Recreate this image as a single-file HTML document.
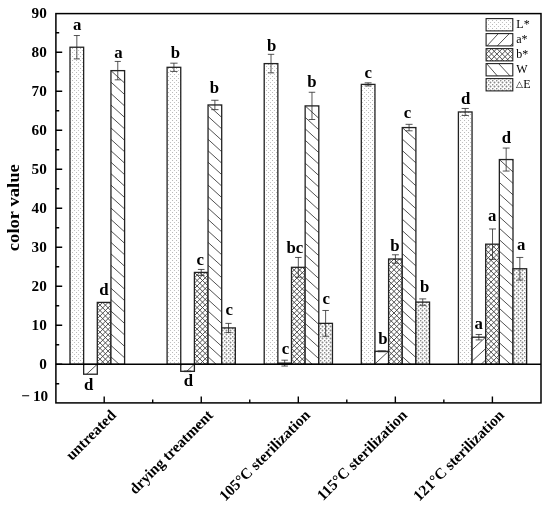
<!DOCTYPE html>
<html lang="en"><head><meta charset="utf-8"><title>color value chart</title>
<style>
html,body{margin:0;padding:0;background:#fff;}
body{width:550px;height:509px;overflow:hidden;}
svg{display:block;}
text{font-family:"Liberation Serif","Times New Roman",serif;fill:#000;}
.b{font-weight:bold;}
.h{stroke:#333;stroke-width:0.85;fill:none;}
.x{stroke:#404040;stroke-width:0.9;fill:none;}
.o{fill:none;stroke:#222;stroke-width:1.3;}
.e{fill:none;stroke:#2a2a2a;stroke-width:0.8;}
</style></head><body>
<svg width="550" height="509" viewBox="0 0 550 509">
<defs>
<pattern id="pL" width="4" height="4" patternUnits="userSpaceOnUse">
<rect width="4" height="4" fill="#fff"/>
<circle cx="0.5" cy="0.5" r="0.6" fill="#b8b8b8"/><circle cx="2.5" cy="2.5" r="0.6" fill="#b8b8b8"/>
</pattern>
<pattern id="pE" width="4" height="4" patternUnits="userSpaceOnUse">
<rect width="4" height="4" fill="#fff"/>
<circle cx="0.5" cy="0.5" r="0.95" fill="#8a8a8a"/><circle cx="2.5" cy="2.5" r="0.95" fill="#8a8a8a"/>
</pattern>
</defs>
<rect x="0" y="0" width="550" height="509" fill="#fff"/>

<rect x="70.00" y="47.23" width="13.65" height="317.07" fill="url(#pL)"/>
<rect class="o" x="70.00" y="47.23" width="13.65" height="317.07"/>
<path class="e" d="M76.83,35.53 V58.93 M73.78,35.53 H79.88 M73.78,58.93 H79.88"/>
<text class="b" transform="translate(77.20,29.50) scale(1.03,1)" font-size="16.3" text-anchor="middle">a</text>
<rect x="83.65" y="364.30" width="13.65" height="9.91" fill="#fff"/>
<clipPath id="c1"><rect x="83.65" y="364.30" width="13.65" height="9.91"/></clipPath>
<path class="h" clip-path="url(#c1)" d="M83.65,365.45 L97.30,352.76 M83.65,376.90 L97.30,364.21"/>
<rect class="o" x="83.65" y="364.30" width="13.65" height="9.91"/>
<text class="b" transform="translate(88.60,389.50) scale(1.03,1)" font-size="16.3" text-anchor="middle">d</text>
<rect x="97.30" y="302.41" width="13.65" height="61.89" fill="#fff"/>
<clipPath id="c2"><rect x="97.30" y="302.41" width="13.65" height="61.89"/></clipPath>
<path class="x" clip-path="url(#c2)" d="M97.30,280.81 l13.65,13.65 M97.30,280.81 l13.65,-13.65 M97.30,286.21 l13.65,13.65 M97.30,286.21 l13.65,-13.65 M97.30,291.61 l13.65,13.65 M97.30,291.61 l13.65,-13.65 M97.30,297.01 l13.65,13.65 M97.30,297.01 l13.65,-13.65 M97.30,302.41 l13.65,13.65 M97.30,302.41 l13.65,-13.65 M97.30,307.81 l13.65,13.65 M97.30,307.81 l13.65,-13.65 M97.30,313.21 l13.65,13.65 M97.30,313.21 l13.65,-13.65 M97.30,318.61 l13.65,13.65 M97.30,318.61 l13.65,-13.65 M97.30,324.01 l13.65,13.65 M97.30,324.01 l13.65,-13.65 M97.30,329.41 l13.65,13.65 M97.30,329.41 l13.65,-13.65 M97.30,334.81 l13.65,13.65 M97.30,334.81 l13.65,-13.65 M97.30,340.21 l13.65,13.65 M97.30,340.21 l13.65,-13.65 M97.30,345.61 l13.65,13.65 M97.30,345.61 l13.65,-13.65 M97.30,351.01 l13.65,13.65 M97.30,351.01 l13.65,-13.65 M97.30,356.41 l13.65,13.65 M97.30,356.41 l13.65,-13.65 M97.30,361.81 l13.65,13.65 M97.30,361.81 l13.65,-13.65 M97.30,367.21 l13.65,13.65 M97.30,367.21 l13.65,-13.65 M97.30,372.61 l13.65,13.65 M97.30,372.61 l13.65,-13.65"/>
<rect class="o" x="97.30" y="302.41" width="13.65" height="61.89"/>
<text class="b" transform="translate(104.00,295.40) scale(1.03,1)" font-size="16.3" text-anchor="middle">d</text>
<rect x="110.95" y="70.63" width="13.65" height="293.67" fill="#fff"/>
<clipPath id="c3"><rect x="110.95" y="70.63" width="13.65" height="293.67"/></clipPath>
<path class="h" clip-path="url(#c3)" d="M110.95,59.18 L124.60,71.60 M110.95,70.63 L124.60,83.05 M110.95,82.08 L124.60,94.50 M110.95,93.53 L124.60,105.95 M110.95,104.98 L124.60,117.40 M110.95,116.43 L124.60,128.85 M110.95,127.88 L124.60,140.30 M110.95,139.33 L124.60,151.75 M110.95,150.78 L124.60,163.20 M110.95,162.23 L124.60,174.65 M110.95,173.68 L124.60,186.10 M110.95,185.13 L124.60,197.55 M110.95,196.58 L124.60,209.00 M110.95,208.03 L124.60,220.45 M110.95,219.48 L124.60,231.90 M110.95,230.93 L124.60,243.35 M110.95,242.38 L124.60,254.80 M110.95,253.83 L124.60,266.25 M110.95,265.28 L124.60,277.70 M110.95,276.73 L124.60,289.15 M110.95,288.18 L124.60,300.60 M110.95,299.63 L124.60,312.05 M110.95,311.08 L124.60,323.50 M110.95,322.53 L124.60,334.95 M110.95,333.98 L124.60,346.40 M110.95,345.43 L124.60,357.85 M110.95,356.88 L124.60,369.30"/>
<rect class="o" x="110.95" y="70.63" width="13.65" height="293.67"/>
<path class="e" d="M117.78,61.43 V79.83 M114.73,61.43 H120.83 M114.73,79.83 H120.83"/>
<text class="b" transform="translate(118.50,58.30) scale(1.03,1)" font-size="16.3" text-anchor="middle">a</text>
<rect x="167.10" y="67.31" width="13.65" height="296.99" fill="url(#pL)"/>
<rect class="o" x="167.10" y="67.31" width="13.65" height="296.99"/>
<path class="e" d="M173.92,63.18 V71.45 M170.27,63.18 H177.57 M170.27,71.45 H177.57"/>
<text class="b" transform="translate(175.30,57.70) scale(1.03,1)" font-size="16.3" text-anchor="middle">b</text>
<rect x="180.75" y="364.30" width="13.65" height="7.02" fill="#fff"/>
<clipPath id="c4"><rect x="180.75" y="364.30" width="13.65" height="7.02"/></clipPath>
<path class="h" clip-path="url(#c4)" d="M180.75,365.45 L194.40,352.76 M180.75,376.90 L194.40,364.21"/>
<rect class="o" x="180.75" y="364.30" width="13.65" height="7.02"/>
<path class="e" d="M187.57,371.01 V371.63 M183.92,371.01 H191.22 M183.92,371.63 H191.22"/>
<text class="b" transform="translate(188.30,385.60) scale(1.03,1)" font-size="16.3" text-anchor="middle">d</text>
<rect x="194.40" y="272.42" width="13.65" height="91.88" fill="#fff"/>
<clipPath id="c5"><rect x="194.40" y="272.42" width="13.65" height="91.88"/></clipPath>
<path class="x" clip-path="url(#c5)" d="M194.40,250.82 l13.65,13.65 M194.40,250.82 l13.65,-13.65 M194.40,256.22 l13.65,13.65 M194.40,256.22 l13.65,-13.65 M194.40,261.62 l13.65,13.65 M194.40,261.62 l13.65,-13.65 M194.40,267.02 l13.65,13.65 M194.40,267.02 l13.65,-13.65 M194.40,272.42 l13.65,13.65 M194.40,272.42 l13.65,-13.65 M194.40,277.82 l13.65,13.65 M194.40,277.82 l13.65,-13.65 M194.40,283.22 l13.65,13.65 M194.40,283.22 l13.65,-13.65 M194.40,288.62 l13.65,13.65 M194.40,288.62 l13.65,-13.65 M194.40,294.02 l13.65,13.65 M194.40,294.02 l13.65,-13.65 M194.40,299.42 l13.65,13.65 M194.40,299.42 l13.65,-13.65 M194.40,304.82 l13.65,13.65 M194.40,304.82 l13.65,-13.65 M194.40,310.22 l13.65,13.65 M194.40,310.22 l13.65,-13.65 M194.40,315.62 l13.65,13.65 M194.40,315.62 l13.65,-13.65 M194.40,321.02 l13.65,13.65 M194.40,321.02 l13.65,-13.65 M194.40,326.42 l13.65,13.65 M194.40,326.42 l13.65,-13.65 M194.40,331.82 l13.65,13.65 M194.40,331.82 l13.65,-13.65 M194.40,337.22 l13.65,13.65 M194.40,337.22 l13.65,-13.65 M194.40,342.62 l13.65,13.65 M194.40,342.62 l13.65,-13.65 M194.40,348.02 l13.65,13.65 M194.40,348.02 l13.65,-13.65 M194.40,353.42 l13.65,13.65 M194.40,353.42 l13.65,-13.65 M194.40,358.82 l13.65,13.65 M194.40,358.82 l13.65,-13.65 M194.40,364.22 l13.65,13.65 M194.40,364.22 l13.65,-13.65 M194.40,369.62 l13.65,13.65 M194.40,369.62 l13.65,-13.65 M194.40,375.02 l13.65,13.65 M194.40,375.02 l13.65,-13.65"/>
<rect class="o" x="194.40" y="272.42" width="13.65" height="91.88"/>
<path class="e" d="M201.22,269.45 V275.38 M197.92,269.45 H204.53 M197.92,275.38 H204.53"/>
<text class="b" transform="translate(200.30,265.10) scale(1.03,1)" font-size="16.3" text-anchor="middle">c</text>
<rect x="208.05" y="104.95" width="13.65" height="259.35" fill="#fff"/>
<clipPath id="c6"><rect x="208.05" y="104.95" width="13.65" height="259.35"/></clipPath>
<path class="h" clip-path="url(#c6)" d="M208.05,93.50 L221.70,105.92 M208.05,104.95 L221.70,117.37 M208.05,116.40 L221.70,128.82 M208.05,127.85 L221.70,140.27 M208.05,139.30 L221.70,151.72 M208.05,150.75 L221.70,163.17 M208.05,162.20 L221.70,174.62 M208.05,173.65 L221.70,186.07 M208.05,185.10 L221.70,197.52 M208.05,196.55 L221.70,208.97 M208.05,208.00 L221.70,220.42 M208.05,219.45 L221.70,231.87 M208.05,230.90 L221.70,243.32 M208.05,242.35 L221.70,254.77 M208.05,253.80 L221.70,266.22 M208.05,265.25 L221.70,277.67 M208.05,276.70 L221.70,289.12 M208.05,288.15 L221.70,300.57 M208.05,299.60 L221.70,312.02 M208.05,311.05 L221.70,323.47 M208.05,322.50 L221.70,334.92 M208.05,333.95 L221.70,346.37 M208.05,345.40 L221.70,357.82 M208.05,356.85 L221.70,369.27"/>
<rect class="o" x="208.05" y="104.95" width="13.65" height="259.35"/>
<path class="e" d="M214.88,100.27 V109.63 M211.22,100.27 H218.53 M211.22,109.63 H218.53"/>
<text class="b" transform="translate(214.50,93.40) scale(1.03,1)" font-size="16.3" text-anchor="middle">b</text>
<rect x="221.70" y="327.91" width="13.65" height="36.39" fill="url(#pE)"/>
<rect class="o" x="221.70" y="327.91" width="13.65" height="36.39"/>
<path class="e" d="M228.52,323.39 V332.44 M225.42,323.39 H231.62 M225.42,332.44 H231.62"/>
<text class="b" transform="translate(229.20,315.00) scale(1.03,1)" font-size="16.3" text-anchor="middle">c</text>
<rect x="264.20" y="63.61" width="13.65" height="300.69" fill="url(#pL)"/>
<rect class="o" x="264.20" y="63.61" width="13.65" height="300.69"/>
<path class="e" d="M271.02,54.33 V72.89 M267.82,54.33 H274.22 M267.82,72.89 H274.22"/>
<text class="b" transform="translate(271.60,50.50) scale(1.03,1)" font-size="16.3" text-anchor="middle">b</text>
<rect x="277.85" y="363.13" width="13.65" height="1.17" fill="#fff"/>
<clipPath id="c7"><rect x="277.85" y="363.13" width="13.65" height="1.17"/></clipPath>
<path class="h" clip-path="url(#c7)" d="M277.85,364.28 L291.50,351.59 M277.85,375.73 L291.50,363.04"/>
<rect class="o" x="277.85" y="363.13" width="13.65" height="1.17"/>
<path class="e" d="M284.67,360.20 V366.06 M281.42,360.20 H287.92 M281.42,366.06 H287.92"/>
<text class="b" transform="translate(285.50,354.20) scale(1.03,1)" font-size="16.3" text-anchor="middle">c</text>
<rect x="291.50" y="267.31" width="13.65" height="96.99" fill="#fff"/>
<clipPath id="c8"><rect x="291.50" y="267.31" width="13.65" height="96.99"/></clipPath>
<path class="x" clip-path="url(#c8)" d="M291.50,245.71 l13.65,13.65 M291.50,245.71 l13.65,-13.65 M291.50,251.11 l13.65,13.65 M291.50,251.11 l13.65,-13.65 M291.50,256.51 l13.65,13.65 M291.50,256.51 l13.65,-13.65 M291.50,261.91 l13.65,13.65 M291.50,261.91 l13.65,-13.65 M291.50,267.31 l13.65,13.65 M291.50,267.31 l13.65,-13.65 M291.50,272.71 l13.65,13.65 M291.50,272.71 l13.65,-13.65 M291.50,278.11 l13.65,13.65 M291.50,278.11 l13.65,-13.65 M291.50,283.51 l13.65,13.65 M291.50,283.51 l13.65,-13.65 M291.50,288.91 l13.65,13.65 M291.50,288.91 l13.65,-13.65 M291.50,294.31 l13.65,13.65 M291.50,294.31 l13.65,-13.65 M291.50,299.71 l13.65,13.65 M291.50,299.71 l13.65,-13.65 M291.50,305.11 l13.65,13.65 M291.50,305.11 l13.65,-13.65 M291.50,310.51 l13.65,13.65 M291.50,310.51 l13.65,-13.65 M291.50,315.91 l13.65,13.65 M291.50,315.91 l13.65,-13.65 M291.50,321.31 l13.65,13.65 M291.50,321.31 l13.65,-13.65 M291.50,326.71 l13.65,13.65 M291.50,326.71 l13.65,-13.65 M291.50,332.11 l13.65,13.65 M291.50,332.11 l13.65,-13.65 M291.50,337.51 l13.65,13.65 M291.50,337.51 l13.65,-13.65 M291.50,342.91 l13.65,13.65 M291.50,342.91 l13.65,-13.65 M291.50,348.31 l13.65,13.65 M291.50,348.31 l13.65,-13.65 M291.50,353.71 l13.65,13.65 M291.50,353.71 l13.65,-13.65 M291.50,359.11 l13.65,13.65 M291.50,359.11 l13.65,-13.65 M291.50,364.51 l13.65,13.65 M291.50,364.51 l13.65,-13.65 M291.50,369.91 l13.65,13.65 M291.50,369.91 l13.65,-13.65 M291.50,375.31 l13.65,13.65 M291.50,375.31 l13.65,-13.65"/>
<rect class="o" x="291.50" y="267.31" width="13.65" height="96.99"/>
<path class="e" d="M298.32,257.44 V277.17 M295.07,257.44 H301.57 M295.07,277.17 H301.57"/>
<text class="b" transform="translate(294.90,253.20) scale(1.03,1)" font-size="16.3" text-anchor="middle">bc</text>
<rect x="305.15" y="105.89" width="13.65" height="258.41" fill="#fff"/>
<clipPath id="c9"><rect x="305.15" y="105.89" width="13.65" height="258.41"/></clipPath>
<path class="h" clip-path="url(#c9)" d="M305.15,94.44 L318.80,106.86 M305.15,105.89 L318.80,118.31 M305.15,117.34 L318.80,129.76 M305.15,128.79 L318.80,141.21 M305.15,140.24 L318.80,152.66 M305.15,151.69 L318.80,164.11 M305.15,163.14 L318.80,175.56 M305.15,174.59 L318.80,187.01 M305.15,186.04 L318.80,198.46 M305.15,197.49 L318.80,209.91 M305.15,208.94 L318.80,221.36 M305.15,220.39 L318.80,232.81 M305.15,231.84 L318.80,244.26 M305.15,243.29 L318.80,255.71 M305.15,254.74 L318.80,267.16 M305.15,266.19 L318.80,278.61 M305.15,277.64 L318.80,290.06 M305.15,289.09 L318.80,301.51 M305.15,300.54 L318.80,312.96 M305.15,311.99 L318.80,324.41 M305.15,323.44 L318.80,335.86 M305.15,334.89 L318.80,347.31 M305.15,346.34 L318.80,358.76 M305.15,357.79 L318.80,370.21"/>
<rect class="o" x="305.15" y="105.89" width="13.65" height="258.41"/>
<path class="e" d="M311.97,92.28 V119.50 M308.72,92.28 H315.22 M308.72,119.50 H315.22"/>
<text class="b" transform="translate(311.90,87.40) scale(1.03,1)" font-size="16.3" text-anchor="middle">b</text>
<rect x="318.80" y="323.35" width="13.65" height="40.95" fill="url(#pE)"/>
<rect class="o" x="318.80" y="323.35" width="13.65" height="40.95"/>
<path class="e" d="M325.62,310.48 V336.22 M322.38,310.48 H328.88 M322.38,336.22 H328.88"/>
<text class="b" transform="translate(326.30,304.30) scale(1.03,1)" font-size="16.3" text-anchor="middle">c</text>
<rect x="361.30" y="84.40" width="13.65" height="279.90" fill="url(#pL)"/>
<rect class="o" x="361.30" y="84.40" width="13.65" height="279.90"/>
<path class="e" d="M368.12,82.84 V85.96 M364.67,82.84 H371.57 M364.67,85.96 H371.57"/>
<text class="b" transform="translate(368.30,77.50) scale(1.03,1)" font-size="16.3" text-anchor="middle">c</text>
<rect x="374.95" y="351.31" width="13.65" height="12.99" fill="#fff"/>
<clipPath id="c10"><rect x="374.95" y="351.31" width="13.65" height="12.99"/></clipPath>
<path class="h" clip-path="url(#c10)" d="M374.95,352.46 L388.60,339.77 M374.95,363.91 L388.60,351.22 M374.95,375.36 L388.60,362.67"/>
<rect class="o" x="374.95" y="351.31" width="13.65" height="12.99"/>
<path class="e" d="M381.77,350.85 V351.78 M377.67,350.85 H385.87 M377.67,351.78 H385.87"/>
<text class="b" transform="translate(382.80,344.40) scale(1.03,1)" font-size="16.3" text-anchor="middle">b</text>
<rect x="388.60" y="259.00" width="13.65" height="105.30" fill="#fff"/>
<clipPath id="c11"><rect x="388.60" y="259.00" width="13.65" height="105.30"/></clipPath>
<path class="x" clip-path="url(#c11)" d="M388.60,237.40 l13.65,13.65 M388.60,237.40 l13.65,-13.65 M388.60,242.80 l13.65,13.65 M388.60,242.80 l13.65,-13.65 M388.60,248.20 l13.65,13.65 M388.60,248.20 l13.65,-13.65 M388.60,253.60 l13.65,13.65 M388.60,253.60 l13.65,-13.65 M388.60,259.00 l13.65,13.65 M388.60,259.00 l13.65,-13.65 M388.60,264.40 l13.65,13.65 M388.60,264.40 l13.65,-13.65 M388.60,269.80 l13.65,13.65 M388.60,269.80 l13.65,-13.65 M388.60,275.20 l13.65,13.65 M388.60,275.20 l13.65,-13.65 M388.60,280.60 l13.65,13.65 M388.60,280.60 l13.65,-13.65 M388.60,286.00 l13.65,13.65 M388.60,286.00 l13.65,-13.65 M388.60,291.40 l13.65,13.65 M388.60,291.40 l13.65,-13.65 M388.60,296.80 l13.65,13.65 M388.60,296.80 l13.65,-13.65 M388.60,302.20 l13.65,13.65 M388.60,302.20 l13.65,-13.65 M388.60,307.60 l13.65,13.65 M388.60,307.60 l13.65,-13.65 M388.60,313.00 l13.65,13.65 M388.60,313.00 l13.65,-13.65 M388.60,318.40 l13.65,13.65 M388.60,318.40 l13.65,-13.65 M388.60,323.80 l13.65,13.65 M388.60,323.80 l13.65,-13.65 M388.60,329.20 l13.65,13.65 M388.60,329.20 l13.65,-13.65 M388.60,334.60 l13.65,13.65 M388.60,334.60 l13.65,-13.65 M388.60,340.00 l13.65,13.65 M388.60,340.00 l13.65,-13.65 M388.60,345.40 l13.65,13.65 M388.60,345.40 l13.65,-13.65 M388.60,350.80 l13.65,13.65 M388.60,350.80 l13.65,-13.65 M388.60,356.20 l13.65,13.65 M388.60,356.20 l13.65,-13.65 M388.60,361.60 l13.65,13.65 M388.60,361.60 l13.65,-13.65 M388.60,367.00 l13.65,13.65 M388.60,367.00 l13.65,-13.65 M388.60,372.40 l13.65,13.65 M388.60,372.40 l13.65,-13.65 M388.60,377.80 l13.65,13.65 M388.60,377.80 l13.65,-13.65"/>
<rect class="o" x="388.60" y="259.00" width="13.65" height="105.30"/>
<path class="e" d="M395.42,254.79 V263.21 M391.97,254.79 H398.87 M391.97,263.21 H398.87"/>
<text class="b" transform="translate(394.80,251.20) scale(1.03,1)" font-size="16.3" text-anchor="middle">b</text>
<rect x="402.25" y="127.57" width="13.65" height="236.73" fill="#fff"/>
<clipPath id="c12"><rect x="402.25" y="127.57" width="13.65" height="236.73"/></clipPath>
<path class="h" clip-path="url(#c12)" d="M402.25,116.12 L415.90,128.54 M402.25,127.57 L415.90,139.99 M402.25,139.02 L415.90,151.44 M402.25,150.47 L415.90,162.89 M402.25,161.92 L415.90,174.34 M402.25,173.37 L415.90,185.79 M402.25,184.82 L415.90,197.24 M402.25,196.27 L415.90,208.69 M402.25,207.72 L415.90,220.14 M402.25,219.17 L415.90,231.59 M402.25,230.62 L415.90,243.04 M402.25,242.07 L415.90,254.49 M402.25,253.52 L415.90,265.94 M402.25,264.97 L415.90,277.39 M402.25,276.42 L415.90,288.84 M402.25,287.87 L415.90,300.29 M402.25,299.32 L415.90,311.74 M402.25,310.77 L415.90,323.19 M402.25,322.22 L415.90,334.64 M402.25,333.67 L415.90,346.09 M402.25,345.12 L415.90,357.54 M402.25,356.57 L415.90,368.99"/>
<rect class="o" x="402.25" y="127.57" width="13.65" height="236.73"/>
<path class="e" d="M409.07,124.33 V130.81 M405.57,124.33 H412.57 M405.57,130.81 H412.57"/>
<text class="b" transform="translate(407.60,118.40) scale(1.03,1)" font-size="16.3" text-anchor="middle">c</text>
<rect x="415.90" y="302.10" width="13.65" height="62.20" fill="url(#pE)"/>
<rect class="o" x="415.90" y="302.10" width="13.65" height="62.20"/>
<path class="e" d="M422.72,298.90 V305.29 M419.22,298.90 H426.22 M419.22,305.29 H426.22"/>
<text class="b" transform="translate(424.70,291.50) scale(1.03,1)" font-size="16.3" text-anchor="middle">b</text>
<rect x="458.40" y="111.97" width="13.65" height="252.33" fill="url(#pL)"/>
<rect class="o" x="458.40" y="111.97" width="13.65" height="252.33"/>
<path class="e" d="M465.22,108.46 V115.48 M461.62,108.46 H468.82 M461.62,115.48 H468.82"/>
<text class="b" transform="translate(465.60,104.00) scale(1.03,1)" font-size="16.3" text-anchor="middle">d</text>
<rect x="472.05" y="337.19" width="13.65" height="27.11" fill="#fff"/>
<clipPath id="c13"><rect x="472.05" y="337.19" width="13.65" height="27.11"/></clipPath>
<path class="h" clip-path="url(#c13)" d="M472.05,338.35 L485.70,325.65 M472.05,349.80 L485.70,337.10 M472.05,361.25 L485.70,348.55 M472.05,372.69 L485.70,360.00"/>
<rect class="o" x="472.05" y="337.19" width="13.65" height="27.11"/>
<path class="e" d="M478.87,334.47 V339.93 M475.67,334.47 H482.07 M475.67,339.93 H482.07"/>
<text class="b" transform="translate(478.60,328.80) scale(1.03,1)" font-size="16.3" text-anchor="middle">a</text>
<rect x="485.70" y="244.18" width="13.65" height="120.12" fill="#fff"/>
<clipPath id="c14"><rect x="485.70" y="244.18" width="13.65" height="120.12"/></clipPath>
<path class="x" clip-path="url(#c14)" d="M485.70,222.58 l13.65,13.65 M485.70,222.58 l13.65,-13.65 M485.70,227.98 l13.65,13.65 M485.70,227.98 l13.65,-13.65 M485.70,233.38 l13.65,13.65 M485.70,233.38 l13.65,-13.65 M485.70,238.78 l13.65,13.65 M485.70,238.78 l13.65,-13.65 M485.70,244.18 l13.65,13.65 M485.70,244.18 l13.65,-13.65 M485.70,249.58 l13.65,13.65 M485.70,249.58 l13.65,-13.65 M485.70,254.98 l13.65,13.65 M485.70,254.98 l13.65,-13.65 M485.70,260.38 l13.65,13.65 M485.70,260.38 l13.65,-13.65 M485.70,265.78 l13.65,13.65 M485.70,265.78 l13.65,-13.65 M485.70,271.18 l13.65,13.65 M485.70,271.18 l13.65,-13.65 M485.70,276.58 l13.65,13.65 M485.70,276.58 l13.65,-13.65 M485.70,281.98 l13.65,13.65 M485.70,281.98 l13.65,-13.65 M485.70,287.38 l13.65,13.65 M485.70,287.38 l13.65,-13.65 M485.70,292.78 l13.65,13.65 M485.70,292.78 l13.65,-13.65 M485.70,298.18 l13.65,13.65 M485.70,298.18 l13.65,-13.65 M485.70,303.58 l13.65,13.65 M485.70,303.58 l13.65,-13.65 M485.70,308.98 l13.65,13.65 M485.70,308.98 l13.65,-13.65 M485.70,314.38 l13.65,13.65 M485.70,314.38 l13.65,-13.65 M485.70,319.78 l13.65,13.65 M485.70,319.78 l13.65,-13.65 M485.70,325.18 l13.65,13.65 M485.70,325.18 l13.65,-13.65 M485.70,330.58 l13.65,13.65 M485.70,330.58 l13.65,-13.65 M485.70,335.98 l13.65,13.65 M485.70,335.98 l13.65,-13.65 M485.70,341.38 l13.65,13.65 M485.70,341.38 l13.65,-13.65 M485.70,346.78 l13.65,13.65 M485.70,346.78 l13.65,-13.65 M485.70,352.18 l13.65,13.65 M485.70,352.18 l13.65,-13.65 M485.70,357.58 l13.65,13.65 M485.70,357.58 l13.65,-13.65 M485.70,362.98 l13.65,13.65 M485.70,362.98 l13.65,-13.65 M485.70,368.38 l13.65,13.65 M485.70,368.38 l13.65,-13.65 M485.70,373.78 l13.65,13.65 M485.70,373.78 l13.65,-13.65"/>
<rect class="o" x="485.70" y="244.18" width="13.65" height="120.12"/>
<path class="e" d="M492.52,228.97 V259.39 M489.07,228.97 H495.97 M489.07,259.39 H495.97"/>
<text class="b" transform="translate(492.20,220.60) scale(1.03,1)" font-size="16.3" text-anchor="middle">a</text>
<rect x="499.35" y="159.55" width="13.65" height="204.75" fill="#fff"/>
<clipPath id="c15"><rect x="499.35" y="159.55" width="13.65" height="204.75"/></clipPath>
<path class="h" clip-path="url(#c15)" d="M499.35,148.10 L513.00,160.52 M499.35,159.55 L513.00,171.97 M499.35,171.00 L513.00,183.42 M499.35,182.45 L513.00,194.87 M499.35,193.90 L513.00,206.32 M499.35,205.35 L513.00,217.77 M499.35,216.80 L513.00,229.22 M499.35,228.25 L513.00,240.67 M499.35,239.70 L513.00,252.12 M499.35,251.15 L513.00,263.57 M499.35,262.60 L513.00,275.02 M499.35,274.05 L513.00,286.47 M499.35,285.50 L513.00,297.92 M499.35,296.95 L513.00,309.37 M499.35,308.40 L513.00,320.82 M499.35,319.85 L513.00,332.27 M499.35,331.30 L513.00,343.72 M499.35,342.75 L513.00,355.17 M499.35,354.20 L513.00,366.62"/>
<rect class="o" x="499.35" y="159.55" width="13.65" height="204.75"/>
<path class="e" d="M506.17,148.05 V171.06 M502.72,148.05 H509.62 M502.72,171.06 H509.62"/>
<text class="b" transform="translate(506.30,142.50) scale(1.03,1)" font-size="16.3" text-anchor="middle">d</text>
<rect x="513.00" y="268.75" width="13.65" height="95.55" fill="url(#pE)"/>
<rect class="o" x="513.00" y="268.75" width="13.65" height="95.55"/>
<path class="e" d="M519.83,257.44 V280.06 M516.38,257.44 H523.28 M516.38,280.06 H523.28"/>
<text class="b" transform="translate(521.20,249.70) scale(1.03,1)" font-size="16.3" text-anchor="middle">a</text>
<path d="M55.9,364.30 H541.0" stroke="#000" stroke-width="1.5" fill="none"/>
<rect x="55.9" y="13.6" width="485.1" height="389.29999999999995" fill="none" stroke="#000" stroke-width="1.5"/>
<path d="M55.9,383.80 h3.3 M55.9,364.30 h6.3 M55.9,344.80 h3.3 M55.9,325.30 h6.3 M55.9,305.80 h3.3 M55.9,286.30 h6.3 M55.9,266.80 h3.3 M55.9,247.30 h6.3 M55.9,227.80 h3.3 M55.9,208.30 h6.3 M55.9,188.80 h3.3 M55.9,169.30 h6.3 M55.9,149.80 h3.3 M55.9,130.30 h6.3 M55.9,110.80 h3.3 M55.9,91.30 h6.3 M55.9,71.80 h3.3 M55.9,52.30 h6.3 M55.9,32.80 h3.3 M104.20,402.9 v-6.5 M152.70,402.9 v-3.5 M201.25,402.9 v-6.5 M249.75,402.9 v-3.5 M298.30,402.9 v-6.5 M346.80,402.9 v-3.5 M395.35,402.9 v-6.5 M443.85,402.9 v-3.5 M492.40,402.9 v-6.5" stroke="#000" stroke-width="1.4" fill="none"/>
<text class="b" x="48.2" y="401.40" font-size="15.2" text-anchor="end">− 10</text>
<text class="b" x="46.8" y="369.40" font-size="15.2" text-anchor="end">0</text>
<text class="b" x="46.8" y="330.40" font-size="15.2" text-anchor="end">10</text>
<text class="b" x="46.8" y="291.40" font-size="15.2" text-anchor="end">20</text>
<text class="b" x="46.8" y="252.40" font-size="15.2" text-anchor="end">30</text>
<text class="b" x="46.8" y="213.40" font-size="15.2" text-anchor="end">40</text>
<text class="b" x="46.8" y="174.40" font-size="15.2" text-anchor="end">50</text>
<text class="b" x="46.8" y="135.40" font-size="15.2" text-anchor="end">60</text>
<text class="b" x="46.8" y="96.40" font-size="15.2" text-anchor="end">70</text>
<text class="b" x="46.8" y="57.40" font-size="15.2" text-anchor="end">80</text>
<text class="b" x="46.8" y="18.40" font-size="15.2" text-anchor="end">90</text>
<text class="b" transform="translate(19.3,207.7) rotate(-90) scale(1.075,1)" font-size="17.3" text-anchor="middle">color value</text>
<text class="b" transform="translate(116.90,416.10) rotate(-45)" font-size="15.3" text-anchor="end">untreated</text>
<text class="b" transform="translate(213.95,416.10) rotate(-45)" font-size="15.3" text-anchor="end">drying treatment</text>
<text class="b" transform="translate(311.00,416.10) rotate(-45)" font-size="15.3" text-anchor="end">105°C sterilization</text>
<text class="b" transform="translate(408.05,416.10) rotate(-45)" font-size="15.3" text-anchor="end">115°C sterilization</text>
<text class="b" transform="translate(505.10,416.10) rotate(-45)" font-size="15.3" text-anchor="end">121°C sterilization</text>
<rect x="486.10" y="18.60" width="26.70" height="12.30" fill="url(#pL)"/>
<rect class="o" style="stroke-width:1.1" x="486.10" y="18.60" width="26.70" height="12.30"/>
<text x="516.3" y="28.00" font-size="12">L*</text>
<clipPath id="c16"><rect x="486.10" y="33.60" width="26.70" height="12.30"/></clipPath>
<path class="h" clip-path="url(#c16)" d="M487.0,45.90 L498.3,33.60 M497.3,45.90 L509.3,33.60 M510.1,45.90 L522.1,33.60"/>
<rect class="o" style="stroke-width:1.1" x="486.10" y="33.60" width="26.70" height="12.30"/>
<text x="516.3" y="43.00" font-size="12">a*</text>
<clipPath id="c17"><rect x="486.10" y="48.60" width="26.70" height="12.30"/></clipPath>
<path class="x" clip-path="url(#c17)" d="M486.10,16.20 l26.70,26.70 M486.10,16.20 l26.70,-26.70 M486.10,21.60 l26.70,26.70 M486.10,21.60 l26.70,-26.70 M486.10,27.00 l26.70,26.70 M486.10,27.00 l26.70,-26.70 M486.10,32.40 l26.70,26.70 M486.10,32.40 l26.70,-26.70 M486.10,37.80 l26.70,26.70 M486.10,37.80 l26.70,-26.70 M486.10,43.20 l26.70,26.70 M486.10,43.20 l26.70,-26.70 M486.10,48.60 l26.70,26.70 M486.10,48.60 l26.70,-26.70 M486.10,54.00 l26.70,26.70 M486.10,54.00 l26.70,-26.70 M486.10,59.40 l26.70,26.70 M486.10,59.40 l26.70,-26.70 M486.10,64.80 l26.70,26.70 M486.10,64.80 l26.70,-26.70 M486.10,70.20 l26.70,26.70 M486.10,70.20 l26.70,-26.70 M486.10,75.60 l26.70,26.70 M486.10,75.60 l26.70,-26.70 M486.10,81.00 l26.70,26.70 M486.10,81.00 l26.70,-26.70 M486.10,86.40 l26.70,26.70 M486.10,86.40 l26.70,-26.70"/>
<rect class="o" style="stroke-width:1.1" x="486.10" y="48.60" width="26.70" height="12.30"/>
<text x="516.3" y="58.00" font-size="12">b*</text>
<clipPath id="c18"><rect x="486.10" y="63.60" width="26.70" height="12.30"/></clipPath>
<path class="h" clip-path="url(#c18)" d="M486.6,63.60 L497.3,75.90 M498.6,63.60 L510.0,75.90"/>
<rect class="o" style="stroke-width:1.1" x="486.10" y="63.60" width="26.70" height="12.30"/>
<text x="516.3" y="73.00" font-size="12">W</text>
<rect x="486.10" y="78.60" width="26.70" height="12.30" fill="url(#pE)"/>
<rect class="o" style="stroke-width:1.1" x="486.10" y="78.60" width="26.70" height="12.30"/>
<text x="516.3" y="88.00" font-size="12"><tspan font-size="8.5" dy="-0.9">△</tspan><tspan dy="0.9">E</tspan></text>
</svg>
</body></html>
